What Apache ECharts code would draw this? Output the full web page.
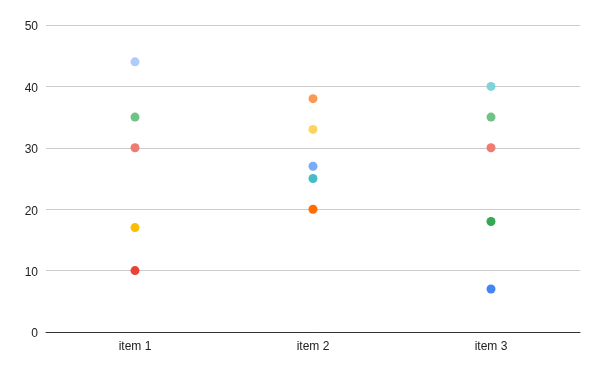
<!DOCTYPE html>
<html><head><meta charset="utf-8">
<script src="https://cdn.jsdelivr.net/npm/echarts@6/dist/echarts.min.js"></script>
<style>html,body{margin:0;padding:0;background:#fff}#c{width:600px;height:371px}</style>
</head><body><div id="c"></div>
<script>
const categories = ['item 1', 'item 2', 'item 3'];
const item1Values = [44, 35, 30, 17, 10];
const item2Values = [38, 33, 27, 25, 20];
const item3Values = [40, 35, 30, 18, 7];
const item1Colors = ['#aecbfa', '#71c287', '#f07b72', '#fbbc04', '#ea4335'];
const item2Colors = ['#fa9a52', '#fdd45c', '#7baaf7', '#46bdc6', '#ff6d01'];
const item3Colors = ['#7ed4da', '#71c287', '#f07b72', '#34a853', '#4285f4'];
const yTicks = [0, 10, 20, 30, 40, 50];

const groups = [[item1Values, item1Colors], [item2Values, item2Colors], [item3Values, item3Colors]];
const data = [];
groups.forEach((g, ci) => {
  g[0].forEach((v, i) => data.push({value: [categories[ci], v], itemStyle: {color: g[1][i], opacity: 1}}));
});

const chart = echarts.init(document.getElementById('c'));
chart.setOption({
  animation: false,
  grid: {left: 46, right: 20, top: 25, bottom: 39},
  xAxis: {
    type: 'category', data: categories,
    axisLine: {lineStyle: {color: '#333', width: 1}},
    axisTick: {show: false},
    axisLabel: {color: '#222', fontFamily: 'Liberation Sans', fontSize: 12, margin: 9}
  },
  yAxis: {
    type: 'value', min: yTicks[0], max: yTicks[yTicks.length - 1], interval: 10,
    axisLine: {show: false}, axisTick: {show: false},
    axisLabel: {color: '#222', fontFamily: 'Liberation Sans', fontSize: 12, margin: 8, verticalAlign: 'top', lineHeight: 4},
    splitLine: {lineStyle: {color: '#cccccc', width: 1}}
  },
  series: [{type: 'scatter', symbolSize: 9, itemStyle: {opacity: 1}, data: data}]
});
</script></body></html>
